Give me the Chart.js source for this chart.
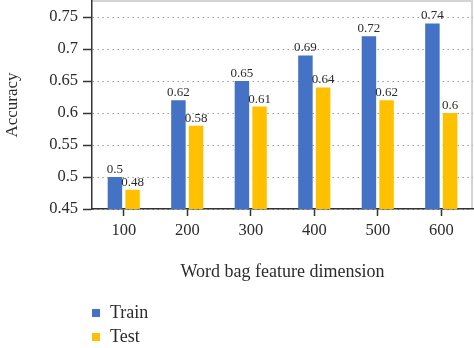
<!DOCTYPE html>
<html>
<head>
<meta charset="utf-8">
<script src="https://cdn.jsdelivr.net/npm/chart.js@4"></script>
<style>
  html, body { margin: 0; padding: 0; background: #fff; }
  #wrap { width: 474px; height: 348px; position: relative; }
</style>
</head>
<body>
<div id="wrap"><canvas id="myChart"></canvas></div>
<script>
// data
const dims = ['100', '200', '300', '400', '500', '600'];
const trainAcc = [0.5, 0.62, 0.65, 0.69, 0.72, 0.74];
const testAcc = [0.48, 0.58, 0.61, 0.64, 0.62, 0.6];
const yTicks = [0.45, 0.5, 0.55, 0.6, 0.65, 0.7, 0.75];
const seriesNames = ['Train', 'Test'];
const seriesColors = ['#4472c4', '#ffc000'];

const serif = '"Liberation Serif", "DejaVu Serif", serif';
const darkText = '#2b2b2b';

// labels above each bar
const barLabels = {
    id: 'barLabels',
    afterDatasetsDraw(chart) {
        const ctx = chart.ctx;
        ctx.save();
        ctx.font = '13px ' + serif;
        ctx.fillStyle = darkText;
        ctx.textAlign = 'center';
        ctx.textBaseline = 'alphabetic';
        chart.data.datasets.forEach((ds, i) => {
            chart.getDatasetMeta(i).data.forEach((bar, j) => {
                ctx.fillText(String(ds.data[j]), bar.x, bar.y - 4);
            });
        });
        ctx.restore();
    }
};

// light frame on top / right of the plot, and the legend at bottom left
const frameAndLegend = {
    id: 'frameAndLegend',
    beforeDraw(chart) {
        const ctx = chart.ctx;
        const a = chart.chartArea;
        ctx.save();
        ctx.strokeStyle = '#d4d4d4';
        ctx.lineWidth = 2;
        ctx.beginPath();
        ctx.moveTo(a.left, 1);
        ctx.lineTo(a.right - 1, 1);
        ctx.lineTo(a.right - 1, a.bottom);
        ctx.stroke();
        ctx.restore();
    },
    afterDraw(chart) {
        const ctx = chart.ctx;
        ctx.save();
        ctx.font = '18px ' + serif;
        ctx.textBaseline = 'alphabetic';
        ctx.textAlign = 'left';
        chart.data.datasets.forEach((ds, i) => {
            const y = 309 + i * 24;
            ctx.fillStyle = ds.backgroundColor;
            ctx.fillRect(92, y, 8, 8);
            ctx.fillStyle = darkText;
            ctx.fillText(ds.label, 110, y + 9);
        });
        ctx.restore();
    }
};

const ctx = document.getElementById('myChart').getContext('2d');
const myChart = new Chart(ctx, {
    type: 'bar',
    data: {
        labels: dims,
        datasets: [
            { label: seriesNames[0], data: trainAcc, backgroundColor: seriesColors[0] },
            { label: seriesNames[1], data: testAcc, backgroundColor: seriesColors[1] }
        ]
    },
    options: {
        responsive: true,
        maintainAspectRatio: false,
        animation: false,
        categoryPercentage: 0.556,
        barPercentage: 0.82,
        layout: { padding: { top: 1, right: 1, left: 0, bottom: 0 } },
        plugins: {
            legend: { display: false },
            tooltip: { enabled: false }
        },
        scales: {
            x: {
                afterFit: s => {
                    s.height = 139;
                    s.paddingLeft = 0;
                    s.paddingRight = 0;
                },
                grid: {
                    offset: false,
                    drawOnChartArea: false,
                    drawTicks: true,
                    tickLength: 7,
                    tickColor: '#333',
                    tickWidth: 1.5
                },
                border: { color: '#333', width: 1.5 },
                ticks: {
                    color: darkText,
                    padding: 5,
                    font: { family: serif, size: 16.5 }
                },
                title: {
                    display: true,
                    text: 'Word bag feature dimension',
                    color: darkText,
                    font: { family: serif, size: 18 },
                    padding: { top: 0, bottom: 65 }
                }
            },
            y: {
                min: 0.45,
                max: 0.775,
                afterFit: s => {
                    s.width = 92;
                    s.paddingTop = 0;
                    s.paddingBottom = 0;
                },
                afterBuildTicks: s => { s.ticks = yTicks.map(v => ({ value: v })); },
                grid: {
                    color: '#9a9a9a',
                    lineWidth: 1,
                    tickLength: 9,
                    tickColor: '#333',
                    tickWidth: 1.5,
                    tickBorderDash: []
                },
                border: { color: '#333', width: 1.5, dash: [1.5, 3.5] },
                ticks: {
                    color: darkText,
                    padding: 5,
                    font: { family: serif, size: 16.5 },
                    callback: v => String(+Number(v).toFixed(2))
                },
                title: {
                    display: true,
                    text: 'Accuracy',
                    color: darkText,
                    font: { family: serif, size: 17 },
                    padding: { top: 2, bottom: 0 }
                }
            }
        }
    },
    plugins: [barLabels, frameAndLegend]
});
</script>
</body>
</html>
